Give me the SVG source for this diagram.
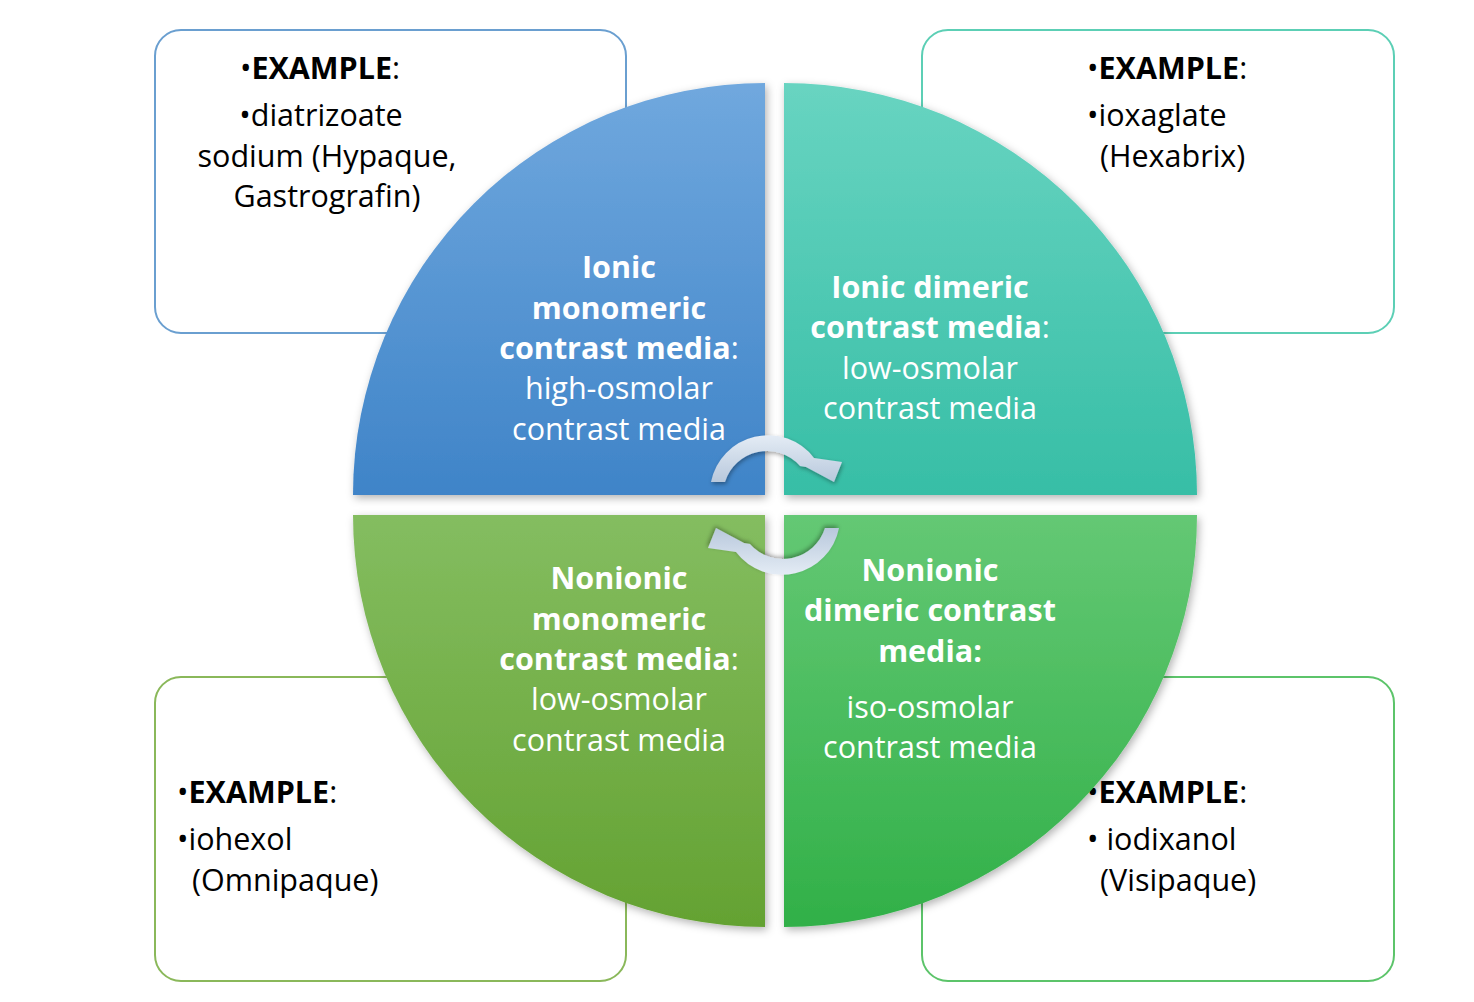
<svg xmlns="http://www.w3.org/2000/svg" width="1474" height="1002" viewBox="0 0 1474 1002">
<defs>
<style>
.box{fill:#fff;stroke-width:2}
.q{filter:url(#sh)}
.w{fill:#fff;font-family:"Open Sans","Liberation Sans",sans-serif;font-size:30.5px;text-anchor:middle}
.b{font-weight:bold}
.k{fill:#000;font-family:"Open Sans","Liberation Sans",sans-serif;font-size:30.5px}
.arr{fill:url(#ga);filter:url(#sh2)}
</style>
<linearGradient id="g1" x1="0" y1="0" x2="0" y2="1"><stop offset="0" stop-color="#70a8de"/><stop offset="1" stop-color="#3f84c8"/></linearGradient>
<linearGradient id="g2" x1="0" y1="0" x2="0" y2="1"><stop offset="0" stop-color="#68d4c1"/><stop offset="1" stop-color="#37bea6"/></linearGradient>
<linearGradient id="g3" x1="0" y1="0" x2="0" y2="1"><stop offset="0" stop-color="#84bd60"/><stop offset="1" stop-color="#64a232"/></linearGradient>
<linearGradient id="g4" x1="0" y1="0" x2="0" y2="1"><stop offset="0" stop-color="#64c874"/><stop offset="1" stop-color="#31b048"/></linearGradient>
<linearGradient id="ga" x1="0" y1="0" x2="0" y2="1"><stop offset="0" stop-color="#e4ecf5"/><stop offset="1" stop-color="#b8c8dc"/></linearGradient>
<filter id="sh" x="-10%" y="-10%" width="120%" height="120%"><feDropShadow dx="2" dy="3" stdDeviation="4" flood-opacity="0.3"/></filter>
<filter id="sh2" x="-20%" y="-20%" width="140%" height="140%"><feDropShadow dx="1" dy="2" stdDeviation="2" flood-opacity="0.35"/></filter>
</defs>
<rect width="1474" height="1002" fill="#fff"/>
<g id="box-tl"><rect class="box" x="155" y="30" width="471" height="303" rx="26" stroke="#6a9fd0"/>
<text class="k" x="320" y="79" text-anchor="middle">•<tspan class="b">EXAMPLE</tspan>:</text>
<text class="k" x="321" y="126" text-anchor="middle">•diatrizoate</text>
<text class="k" x="327" y="167" text-anchor="middle">sodium (Hypaque,</text>
<text class="k" x="327" y="207" text-anchor="middle">Gastrografin)</text></g>
<g id="box-tr"><rect class="box" x="922" y="30" width="472" height="303" rx="26" stroke="#5ccfb5"/>
<text class="k" x="1087" y="79">•<tspan class="b">EXAMPLE</tspan>:</text>
<text class="k" x="1087" y="126">•ioxaglate</text>
<text class="k" x="1100" y="167">(Hexabrix)</text></g>
<g id="box-bl"><rect class="box" x="155" y="677" width="471" height="304" rx="26" stroke="#8ab85a"/>
<text class="k" x="177" y="803">•<tspan class="b">EXAMPLE</tspan>:</text>
<text class="k" x="177" y="850">•iohexol</text>
<text class="k" x="192" y="891">(Omnipaque)</text></g>
<g id="box-br"><rect class="box" x="922" y="677" width="472" height="304" rx="26" stroke="#5cc46a"/>
<text class="k" x="1087" y="803">•<tspan class="b">EXAMPLE</tspan>:</text>
<text class="k" x="1087" y="850">• iodixanol</text>
<text class="k" x="1100" y="891">(Visipaque)</text></g>
<g id="q-tl"><path class="q" d="M765,495 L353,495 A412,412 0 0 1 765,83 Z" fill="url(#g1)"/>
<text class="w b" x="619" y="278">Ionic</text>
<text class="w b" x="619" y="319">monomeric</text>
<text class="w" x="619" y="359"><tspan class="b">contrast media</tspan>:</text>
<text class="w" x="619" y="399">high-osmolar</text>
<text class="w" x="619" y="440">contrast media</text></g>
<g id="q-tr"><path class="q" d="M784,495 L784,83 A413,412 0 0 1 1197,495 Z" fill="url(#g2)"/>
<text class="w b" x="930" y="298">Ionic dimeric</text>
<text class="w" x="930" y="338"><tspan class="b">contrast media</tspan>:</text>
<text class="w" x="930" y="379">low-osmolar</text>
<text class="w" x="930" y="419">contrast media</text></g>
<g id="q-bl"><path class="q" d="M765,515 L765,927 A412,412 0 0 1 353,515 Z" fill="url(#g3)"/>
<text class="w b" x="619" y="589">Nonionic</text>
<text class="w b" x="619" y="630">monomeric</text>
<text class="w" x="619" y="670"><tspan class="b">contrast media</tspan>:</text>
<text class="w" x="619" y="710">low-osmolar</text>
<text class="w" x="619" y="751">contrast media</text></g>
<g id="q-br"><path class="q" d="M784,515 L1197,515 A413,412 0 0 1 784,927 Z" fill="url(#g4)"/>
<text class="w b" x="930" y="581">Nonionic</text>
<text class="w b" x="930" y="621">dimeric contrast</text>
<text class="w b" x="930" y="662">media:</text>
<text class="w" x="930" y="718">iso-osmolar</text>
<text class="w" x="930" y="758">contrast media</text></g>
<g id="connectors">
<path class="arr" d="M711,482 A58,58 0 0 1 814,458 L842,462 L834,482 L806,467 L800,466 A44,44 0 0 0 725,482 Z"/>
<path class="arr" transform="rotate(180 775 505)" d="M711,482 A58,58 0 0 1 814,458 L842,462 L834,482 L806,467 L800,466 A44,44 0 0 0 725,482 Z"/>
</g>
</svg>
